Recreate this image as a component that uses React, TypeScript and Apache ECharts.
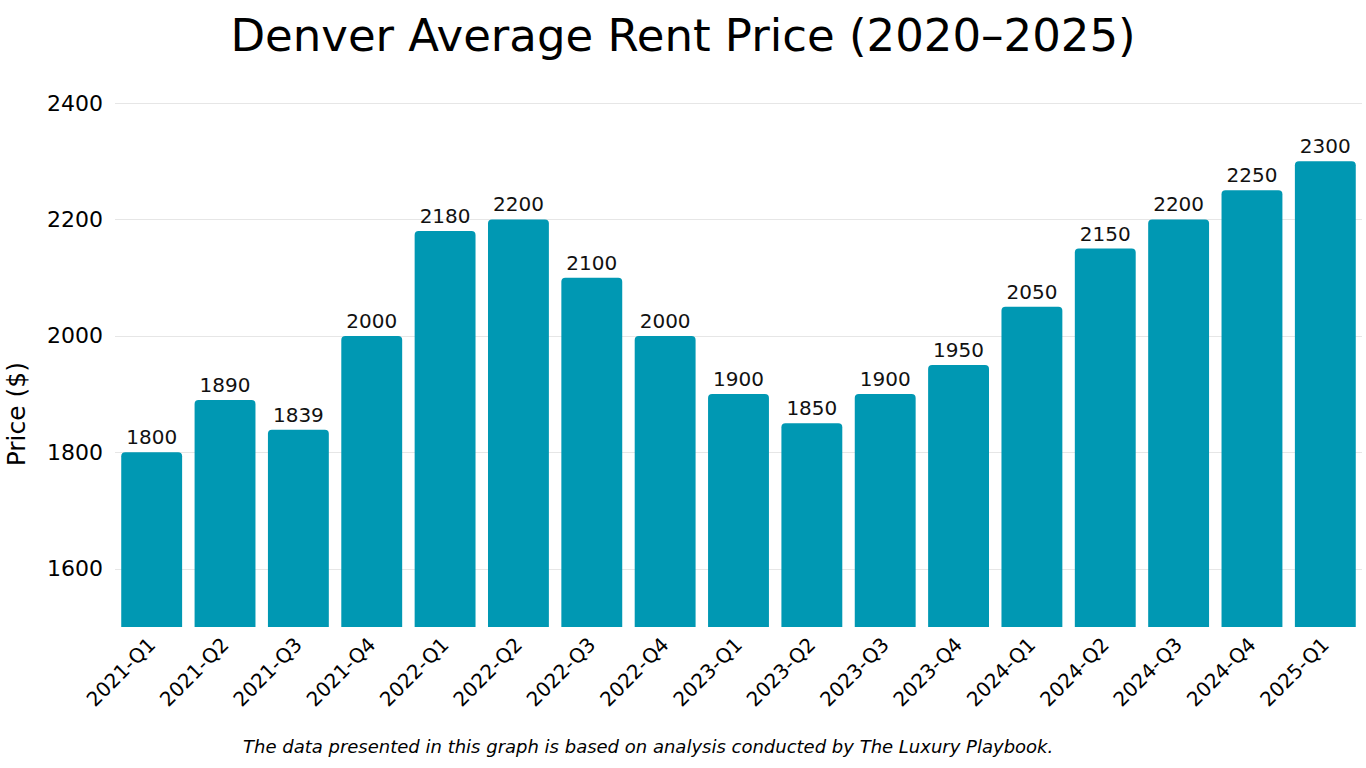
import React, { useEffect, useRef } from "react";
import * as echarts from "echarts";

const categories = [
  "2021-Q1", "2021-Q2", "2021-Q3", "2021-Q4",
  "2022-Q1", "2022-Q2", "2022-Q3", "2022-Q4",
  "2023-Q1", "2023-Q2", "2023-Q3", "2023-Q4",
  "2024-Q1", "2024-Q2", "2024-Q3", "2024-Q4",
  "2025-Q1",
];
const prices = [1800, 1890, 1839, 2000, 2180, 2200, 2100, 2000, 1900, 1850, 1900, 1950, 2050, 2150, 2200, 2250, 2300];
const titleText = "Denver Average Rent Price (2020\u20132025)";
const yAxisTitle = "Price ($)";
const footnote = "The data presented in this graph is based on analysis conducted by The Luxury Playbook.";

const FONT = "'DejaVu Sans', sans-serif";

export default function App() {
  const ref = useRef<HTMLDivElement>(null);
  useEffect(() => {
    if (!ref.current) return;
    const chart = echarts.init(ref.current, undefined, { renderer: "svg" });
    chart.setOption({
      animation: false,
      backgroundColor: "#ffffff",
      title: {
        text: titleText,
        left: "center",
        top: 8,
        textStyle: { fontFamily: FONT, fontSize: 45, fontWeight: "normal", color: "#000" },
      },
      grid: { left: 115, right: 4, top: 103, bottom: 141 },
      xAxis: {
        type: "category",
        data: categories,
        axisLine: { show: false },
        axisTick: { show: false },
        axisLabel: { rotate: 45, fontFamily: FONT, fontSize: 20, color: "#000", margin: 14, interval: 0 },
      },
      yAxis: {
        type: "value",
        min: 1500,
        max: 2400,
        interval: 100,
        axisLine: { show: false },
        axisTick: { show: false },
        axisLabel: {
          fontFamily: FONT,
          fontSize: 22,
          color: "#000",
          margin: 12,
          formatter: (v: number) => (v % 200 === 0 ? String(v) : ""),
        },
        splitLine: { show: true, lineStyle: { color: ["transparent", "#e6e6e6"], width: 1 } },
      },
      graphic: [
        {
          type: "text",
          left: 4,
          top: 362,
          rotation: Math.PI / 2,
          style: { text: yAxisTitle, fontFamily: FONT, fontSize: 25, fill: "#000" },
        },
        {
          type: "text",
          left: 243,
          top: 737,
          style: { text: footnote, fontFamily: FONT, fontSize: 18, fontStyle: "italic", fill: "#000" },
        },
      ],
      series: [
        {
          type: "bar",
          data: prices,
          barCategoryGap: "17%",
          itemStyle: { color: "#0098B3", borderRadius: [4, 4, 0, 0] },
          label: { show: true, position: "top", distance: 5, fontFamily: FONT, fontSize: 20, color: "#111" },
        },
      ],
    });
    return () => chart.dispose();
  }, []);
  return <div ref={ref} style={{ position: "fixed", left: 0, top: 0, width: 1366, height: 768 }} />;
}
